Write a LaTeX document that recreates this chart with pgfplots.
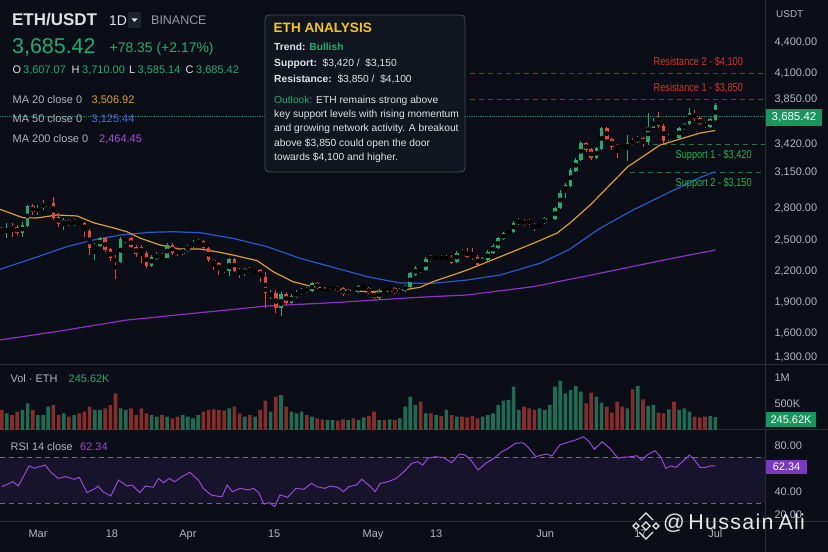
\documentclass[border=0pt]{standalone}
\usepackage{pgfplots}
\pgfplotsset{compat=1.18}
\usepackage{pgfplotstable}
\usepackage{fontspec}
\setmainfont{Liberation Sans}
\newfontfamily\narrowfont[FakeStretch=0.8]{Liberation Sans}
\newfontfamily\wmfont[LetterSpace=6]{Liberation Sans}

\definecolor{bg}{RGB}{11,14,22}
\definecolor{sep}{RGB}{40,44,55}
\definecolor{hdr}{RGB}{222,225,232}
\definecolor{txt}{RGB}{178,181,190}
\definecolor{dim}{RGB}{150,153,162}
\definecolor{upc}{RGB}{34,171,110}
\definecolor{dnc}{RGB}{232,67,60}
\definecolor{volup}{RGB}{27,108,80}
\definecolor{voldn}{RGB}{136,43,43}
\definecolor{ma20}{RGB}{214,160,42}
\definecolor{ma50}{RGB}{42,86,205}
\definecolor{ma50t}{RGB}{58,112,235}
\definecolor{ma200}{RGB}{138,50,200}
\definecolor{ma200t}{RGB}{165,80,235}
\definecolor{rsic}{RGB}{150,72,215}
\definecolor{band}{RGB}{22,19,42}
\definecolor{gold}{RGB}{245,197,24}
\definecolor{rest}{RGB}{214,48,48}
\definecolor{resl}{RGB}{165,32,32}
\definecolor{supt}{RGB}{38,178,82}
\definecolor{supl}{RGB}{30,120,62}
\definecolor{boxbg}{RGB}{17,21,31}
\definecolor{boxln}{RGB}{72,76,88}
\definecolor{pbox}{RGB}{24,150,95}
\definecolor{rbox}{RGB}{120,56,190}
\definecolor{pline}{RGB}{40,125,85}
\definecolor{ddbox}{RGB}{30,34,45}

\newcommand{\fs}[1]{\fontsize{#1}{#1}\selectfont}

% daily candles: index, open, high, low, close, volume (K)
\pgfplotstableread{
i o h l c v
1 2603 2622 2564 2580 385
2 2584 2661 2516 2606 320
3 2635 2661 2532 2596 288
4 2628 2644 2548 2564 353
5 2570 2676 2532 2644 385
6 2638 2837 2628 2827 513
7 2827 2847 2741 2772 385
8 2772 2837 2741 2805 288
9 2805 2885 2789 2853 288
10 2821 2869 2815 2859 449
11 2859 2917 2692 2709 481
12 2724 2757 2628 2651 288
13 2651 2709 2596 2692 320
14 2692 2699 2635 2651 256
15 2661 2699 2635 2683 288
16 2676 2686 2635 2644 320
17 2661 2676 2532 2596 353
18 2590 2603 2356 2420 450
19 2420 2468 2308 2452 385
20 2442 2532 2430 2516 385
21 2516 2526 2387 2404 417
22 2410 2420 2301 2324 481
23 2324 2356 2122 2291 705
24 2291 2532 2276 2507 417
25 2500 2532 2468 2516 385
26 2516 2526 2420 2436 417
27 2436 2452 2339 2365 288
28 2432 2452 2279 2372 417
29 2372 2394 2228 2253 320
30 2250 2356 2240 2339 288
31 2317 2385 2308 2362 256
32 2356 2372 2314 2324 288
33 2330 2468 2324 2452 256
34 2452 2468 2356 2372 224
35 2404 2420 2349 2365 256
36 2365 2423 2356 2410 288
37 2394 2452 2385 2436 256
38 2430 2500 2420 2474 224
39 2459 2507 2449 2490 288
40 2490 2500 2410 2420 353
41 2420 2433 2291 2308 385
42 2308 2317 2211 2269 397
43 2276 2291 2163 2211 385
44 2228 2243 2180 2211 372
45 2205 2324 2153 2314 417
46 2314 2327 2192 2205 449
47 2211 2228 2134 2180 320
48 2180 2231 2153 2218 256
49 2218 2243 2180 2195 288
50 2185 2221 2173 2211 256
51 2211 2221 2099 2147 385
52 2147 2195 1845 1990 564
53 1948 2019 1929 1993 353
54 1993 2019 1795 1843 641
55 1843 2002 1768 1980 673
56 1980 1999 1874 1897 449
57 1897 1980 1884 1961 353
58 1948 2019 1939 2002 320
59 1987 2038 1977 2026 353
60 2035 2051 1987 2002 288
61 2012 2096 1999 2083 256
62 2083 2096 2026 2035 224
63 2041 2051 1999 2012 205
64 2012 2048 1999 2035 192
65 2019 2051 2009 2041 192
66 2045 2057 1999 2012 180
67 2035 2048 1961 1977 205
68 1977 2028 1968 2019 192
69 2026 2038 1990 1999 224
70 2002 2070 1990 2057 192
71 2045 2067 2035 2057 244
72 2041 2051 1977 1987 269
73 2002 2012 1922 1939 353
74 1939 2026 1922 2012 192
75 2026 2038 1990 2002 192
76 2012 2048 2002 2035 205
77 2035 2048 1977 1987 192
78 1987 2038 1977 2026 224
79 2012 2070 2002 2057 449
80 2051 2195 2041 2180 641
81 2163 2250 2153 2228 481
82 2228 2243 2180 2205 545
83 2211 2336 2202 2314 320
84 2333 2356 2291 2308 320
85 2314 2356 2308 2339 288
86 2339 2351 2305 2314 269
87 2308 2353 2298 2339 385
88 2339 2356 2269 2282 288
89 2291 2394 2282 2378 256
90 2387 2410 2356 2372 256
91 2387 2420 2324 2339 244
92 2356 2420 2308 2333 269
93 2339 2356 2243 2259 224
94 2276 2336 2266 2324 256
95 2308 2401 2298 2387 288
96 2378 2459 2368 2442 320
97 2420 2532 2410 2516 481
98 2507 2577 2497 2564 564
99 2564 2599 2555 2587 577
100 2580 2683 2570 2667 833
101 2661 2709 2644 2692 385
102 2686 2699 2635 2644 449
103 2692 2705 2641 2654 417
104 2654 2664 2587 2613 385
105 2622 2667 2613 2654 417
106 2661 2721 2651 2709 385
107 2692 2724 2683 2709 481
108 2699 2821 2690 2805 833
109 2808 2981 2795 2955 949
110 2965 3049 2904 3029 705
111 3023 3193 3010 3174 769
112 3164 3289 3155 3270 846
113 3270 3453 3260 3431 737
114 3431 3446 3350 3366 513
115 3373 3386 3270 3286 718
116 3286 3395 3277 3383 641
117 3376 3591 3366 3575 526
118 3575 3591 3462 3472 449
119 3472 3482 3366 3398 333
120 3408 3424 3292 3383 545
121 3405 3419 3366 3383 449
122 3383 3511 3260 3431 417
123 3462 3477 3411 3421 782
124 3446 3501 3437 3485 846
125 3479 3491 3398 3431 590
126 3446 3720 3414 3591 462
127 3581 3671 3575 3645 481
128 3655 3735 3575 3600 333
129 3600 3614 3431 3453 320
130 3462 3520 3453 3504 397
131 3494 3506 3467 3479 545
132 3485 3588 3475 3575 385
133 3566 3626 3556 3614 417
134 3614 3768 3604 3720 353
135 3710 3751 3645 3665 256
136 3671 3684 3604 3614 244
137 3623 3636 3578 3591 256
138 3591 3677 3581 3665 269
139 3655 3819 3645 3799 245.62
}\candles

\pgfplotstableread{
i p
0.67 2795
5.1 2715
7.8 2712
11.7 2741
15.6 2731
18.7 2667
22.5 2618
25.2 2580
27.7 2519
31.6 2452
35.5 2413
39.4 2413
42.6 2387
45.7 2356
50.4 2301
53.5 2195
57.3 2099
60.6 2057
65.1 2025
71.7 2002
78 2014
81.9 2045
84.4 2099
91 2211
97.4 2339
103.8 2468
108.4 2567
110.9 2664
114.8 2837
116.7 2933
122 3203
128.3 3414
136.1 3530
139 3554
}\maA

\pgfplotstableread{
i p
0.67 2218
7.1 2324
13.6 2436
18.7 2500
23.9 2548
29.7 2574
34.1 2580
39.4 2570
45.7 2516
52.3 2436
58.7 2324
65.1 2237
71.7 2147
78 2086
84.4 2083
91 2115
97.4 2163
105.1 2276
110.6 2404
116.7 2613
123.1 2789
129.7 2950
136.1 3103
139 3157
}\maB

\pgfplotstableread{
i p
0.67 1538
12.3 1624
25.2 1730
52.3 1865
65.1 1897
81.9 1949
91 1971
103.8 2051
116.7 2180
129.7 2314
139 2404
}\maC

\pgfplotstableread{
i v
1 44.3
3.2 48.6
4.2 44.9
6.3 62.2
7.3 60.2
9.4 63
10.4 57.3
11.9 51.5
13.4 53
15 50.7
16 52.4
17.5 39.2
19.1 42.9
19.6 44.9
20.6 40
22.1 36.3
23.6 50.1
25.2 44.9
26.2 45.8
27.7 39.2
28.8 44.9
30.3 43.8
31.3 51.5
32.3 47.8
33.4 51.5
34.4 48.6
35.9 53
37.4 56.7
39 50.1
40 42.9
41.5 37.2
42.5 36.3
43.6 35.7
44.6 45.8
45.6 40
47.1 42.9
48.7 41.5
49.7 42.9
50.7 39.2
51.7 29.4
52.8 30.5
53.8 27.1
54.8 37.2
56.3 35.2
57.9 42.9
59.4 42.1
60.9 47.2
62 44.3
63.5 42.9
64.5 44.9
66 43.8
67.1 40
68.1 44.3
69.6 45.8
70.6 50.7
72.2 44.9
73.2 40
74.2 47.2
75.7 48.6
77.3 51.5
78.8 57.3
80.3 64.5
81.4 65.9
82.4 63
83.4 68.8
84.9 70.2
86.5 69.3
88 65
89.5 72.5
90.6 71.6
91.6 67.9
93.1 58.7
94.6 64.5
96.2 68.8
97.7 74.5
98.7 76.6
100.3 81.7
101.8 82.2
102.8 78.3
104.3 70.2
105.4 71.6
106.4 72.5
107.4 70.8
108.9 80.3
110.5 82.6
112 84.6
113.5 87.4
114.6 83.1
115.6 76.6
117.1 83.1
118.6 77.4
120.2 68.8
121.2 69.7
122.7 70.2
123.8 71
124.8 67.3
125.8 71.6
127.3 75.3
128.4 70.2
129.4 60.2
130.4 62.2
131.4 61
133 67.3
134 71.6
135 67.3
136 61
137 61
138.1 62.2
139 62.34
}\rsidata

\pgfplotsset{
  panel/.style={
    scale only axis, width=765bp, xmin=0.67, xmax=148.6,
    axis line style={draw=none}, tick style={draw=none},
    major tick length=0pt,
    yticklabel pos=right,
    tick label style={font=\fs{11}, text=txt},
    yticklabel style={anchor=west, xshift=6bp},
    clip=false,
  },
  up/.style={restrict expr to domain={\thisrow{c}-\thisrow{o}}{0:100000}},
  down/.style={restrict expr to domain={\thisrow{c}-\thisrow{o}}{-100000:-0.001}},
}

\begin{document}
\begin{tikzpicture}
\begin{scope}[x=1bp, y=1bp, shift={(0,552)}, yscale=-1]
  \fill[bg] (0,0) rectangle (828,552);
  \draw[sep, line width=1bp] (0,365) -- (828,365) (0,430) -- (828,430)
    (0,522) -- (828,522) (765.5,0) -- (765.5,552);
\end{scope}

% ---- price panel (pixel rows 0-365)
\begin{scope}[yshift=187bp]
\begin{axis}[panel, height=365bp,
  ymin=1297, ymax=4810, xtick=\empty,
  ytick={1600,1900,2200,2500,2800,3150,3420,3850,4100,4400},
  yticklabels={1{,}600.00,1{,}900.00,2{,}200.00,2{,}500.00,2{,}800.00,3{,}150.00,3{,}420.00,3{,}850.00,4{,}100.00,4{,}400.00},
  extra y ticks={1300}, extra y tick labels={1{,}300.00},
  extra y tick style={tick label style={yshift=7bp}}]

  \addplot[pline, densely dotted, line width=0.8bp] coordinates {(0.67,3685.42) (148.6,3685.42)};

  \addplot[resl, dash pattern=on 5bp off 4bp, line width=1bp] coordinates {(91.6,4100) (148.6,4100)};
  \addplot[resl, dash pattern=on 5bp off 4bp, line width=1bp] coordinates {(91.6,3850) (148.6,3850)};
  \addplot[supl, dash pattern=on 5bp off 4bp, line width=1bp] coordinates {(127,3420) (148.6,3420)};
  \addplot[supl, dash pattern=on 5bp off 4bp, line width=1bp] coordinates {(122.5,3150) (148.6,3150)};

  \addplot[ma200, line width=1.2bp] table[x=i, y=p]{\maC};
  \addplot[ma50, line width=1.2bp] table[x=i, y=p]{\maB};
  \addplot[ma20, line width=1.2bp] table[x=i, y=p]{\maA};

  % wicks
  \addplot[only marks, mark=none, up, error bars/.cd, y dir=both, y explicit, error mark=none,
    error bar style={draw=upc, line width=0.9bp}]
    table[x=i, y expr={(\thisrow{h}+\thisrow{l})/2}, y error expr={(\thisrow{h}-\thisrow{l})/2}]{\candles};
  \addplot[only marks, mark=none, down, error bars/.cd, y dir=both, y explicit, error mark=none,
    error bar style={draw=dnc, line width=0.9bp}]
    table[x=i, y expr={(\thisrow{h}+\thisrow{l})/2}, y error expr={(\thisrow{h}-\thisrow{l})/2}]{\candles};
  % bodies
  \addplot[only marks, mark=none, up, error bars/.cd, y dir=both, y explicit, error mark=none,
    error bar style={draw=upc, line width=3.6bp}]
    table[x=i, y expr={(\thisrow{o}+\thisrow{c})/2}, y error expr={max(abs(\thisrow{c}-\thisrow{o})/2,7)}]{\candles};
  \addplot[only marks, mark=none, down, error bars/.cd, y dir=both, y explicit, error mark=none,
    error bar style={draw=dnc, line width=3.6bp}]
    table[x=i, y expr={(\thisrow{o}+\thisrow{c})/2}, y error expr={max(abs(\thisrow{c}-\thisrow{o})/2,7)}]{\candles};

  \node[anchor=south east, yshift=3bp, font=\narrowfont\fs{11.5}, text=rest] at (axis cs:145,4100) {Resistance 2 - \$4,100};
  \node[anchor=south east, yshift=3bp, font=\narrowfont\fs{11.5}, text=rest] at (axis cs:145,3850) {Resistance 1 - \$3,850};
  \node[anchor=north east, yshift=-2bp, font=\narrowfont\fs{11.5}, text=supt] at (axis cs:146.7,3420) {Support 1 - \$3,420};
  \node[anchor=north east, yshift=-2bp, font=\narrowfont\fs{11.5}, text=supt] at (axis cs:146.7,3150) {Support 2 - \$3,150};
\end{axis}
\end{scope}

% ---- volume panel (pixel rows 365-430)
\begin{scope}[yshift=122bp]
\begin{axis}[panel, height=65bp,
  ymin=0, ymax=1250, xtick=\empty, ytick={500,1000}, yticklabels={500K,1M}]
  \addplot[ybar, bar width=3.6bp, bar shift=0pt, fill=volup, draw=none, up] table[x=i, y=v]{\candles};
  \addplot[ybar, bar width=3.6bp, bar shift=0pt, fill=voldn, draw=none, down] table[x=i, y=v]{\candles};
\end{axis}
\end{scope}

% ---- RSI panel (pixel rows 430-522)
\begin{scope}[yshift=30bp]
\begin{axis}[panel, height=92bp,
  ymin=13.9, ymax=93.2, ytick={20,40,80}, yticklabels={20.00,40.00,80.00},
  xtick={8.02,22.3,37,53.7,72.8,85,106.1,124.5,139},
  xticklabels={Mar,18,Apr,15,May,13,Jun,17,Jul},
  xticklabel style={yshift=-4bp}]
  \addplot[draw=none, fill=band] coordinates {(0.67,30) (148.6,30) (148.6,70) (0.67,70)};
  \addplot[dim!70!black, dash pattern=on 5bp off 4bp, line width=0.8bp] coordinates {(0.67,70) (148.6,70)};
  \addplot[dim!70!black, dash pattern=on 5bp off 4bp, line width=0.8bp] coordinates {(0.67,30) (148.6,30)};
  \addplot[rsic, line width=1bp] table[x=i, y=v]{\rsidata};
\end{axis}
\end{scope}

% ---- overlays in pixel coordinates
\begin{scope}[x=1bp, y=1bp, shift={(0,552)}, yscale=-1]
  \node[anchor=base west, font=\bfseries\fs{17}, text=hdr, inner sep=0] at (12,26) {ETH/USDT};
  \node[anchor=base west, font=\fs{14}, text=hdr, inner sep=0] at (109,25.5) {1D};
  \fill[ddbox] (128,12) rectangle (141,28);
  \fill[hdr] (131.5,18.5) -- (137.5,18.5) -- (134.5,22) -- cycle;
  \node[anchor=base west, font=\fs{12.5}, text=dim, inner sep=0] at (151,24.5) {BINANCE};
  \node[anchor=base west, font=\fs{21.5}, text=upc, inner sep=0] at (12,54) {3,685.42};
  \node[anchor=base west, font=\fs{14}, text=upc, inner sep=0] at (109.5,52.5) {+78.35 (+2.17\%)};

  \begin{scope}[every node/.style={anchor=base west, font=\fs{11}, inner sep=0}]
    \node[text=hdr] at (12.5,74) {O};   \node[text=upc] at (23,74) {3,607.07};
    \node[text=hdr] at (71.5,74) {H};   \node[text=upc] at (82,74) {3,710.00};
    \node[text=hdr] at (129,74) {L};    \node[text=upc] at (137.5,74) {3,585.14};
    \node[text=hdr] at (185.5,74) {C};  \node[text=upc] at (196,74) {3,685.42};
    \node[text=txt] at (12.5,104) {MA 20 close 0};  \node[text=ma20] at (91.5,104) {3,506.92};
    \node[text=txt] at (12.5,123) {MA 50 close 0};  \node[text=ma50t] at (91.5,123) {3,125.44};
    \node[text=txt] at (12.5,143) {MA 200 close 0}; \node[text=ma200t] at (99,143) {2,464.45};
    \node[text=txt] at (10.5,382) {Vol · ETH};      \node[text=upc] at (68.5,382) {245.62K};
    \node[text=txt] at (10.5,450) {RSI 14 close};   \node[text=rsic] at (80,450) {62.34};
    \node[text=txt, font=\fs{10}] at (776,17.5) {USDT};
  \end{scope}

  % analysis box
  \draw[rounded corners=4bp, fill=boxbg, draw=boxln, line width=0.8bp] (265,15) rectangle (465,172);
  \begin{scope}[every node/.style={anchor=base west, font=\fs{10.3}, text=hdr, inner sep=0}]
    \node[font=\bfseries\fs{13.6}, text=gold] at (273.5,32.5) {ETH ANALYSIS};
    \node at (274,50.5) {\textbf{Trend:} \textcolor{upc}{\textbf{Bullish}}};
    \node at (274,67) {\textbf{Support:}\ \ \$3,420 / \ \$3,150};
    \node at (274,83) {\textbf{Resistance:}\ \ \$3,850 / \ \$4,100};
    \node at (274,103.5) {\textcolor{upc}{Outlook:} ETH remains strong above};
    \node at (274,118) {key support levels with rising momentum};
    \node at (274,132) {and growing network activity. A breakout};
    \node at (274,146.5) {above \$3,850 could open the door};
    \node at (274,160.5) {towards \$4,100 and higher.};
  \end{scope}

  % last value tags
  \fill[pbox] (766,109) rectangle (822,126);
  \node[font=\fs{11.5}, text=white] at (794,117.5) {3,685.42};
  \fill[pbox] (766,412) rectangle (816,427);
  \node[font=\fs{11}, text=white] at (791,419.5) {245.62K};
  \fill[rbox] (766,460) rectangle (807,474);
  \node[font=\fs{11}, text=white] at (786.5,467) {62.34};

  % watermark
  \begin{scope}[shift={(646,526)}, white, line width=1.3bp, opacity=0.9]
    \draw (0,-4) -- (4,0) -- (0,4) -- (-4,0) -- cycle;
    \draw (-10,-3) -- (-7,0) -- (-10,3) -- (-13,0) -- cycle;
    \draw (10,-3) -- (13,0) -- (10,3) -- (7,0) -- cycle;
    \draw (-7,-6) -- (0,-13) -- (7,-6);
    \draw (-7,6) -- (0,13) -- (7,6);
  \end{scope}
  \node[anchor=base west, font=\wmfont\fs{21.5}, text=white, opacity=0.9, inner sep=0] at (663,529) {@\,Hussain\hspace{5bp}Ali};
\end{scope}
\pgfresetboundingbox
\path[use as bounding box] (0,0) rectangle (828bp,552bp);
\end{tikzpicture}
\end{document}
